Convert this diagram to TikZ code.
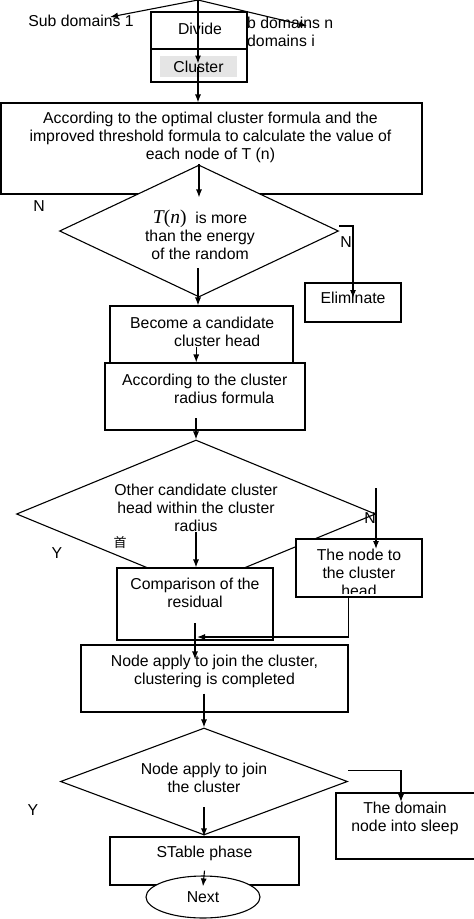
\documentclass[tikz,border=0pt]{standalone}
\usepackage{fontspec}
\setmainfont{Liberation Sans}
\newfontfamily\cjk{Noto Sans CJK SC}
\newfontfamily\lserif{Liberation Serif}
\newcommand{\tvar}{{\lserif\itshape T}{\lserif(}{\lserif\itshape n}{\lserif)}}
\usetikzlibrary{shapes.geometric, arrows.meta}
\tikzset{
    process/.style = {
        rectangle, draw, fill=white,
        line width=1.1pt, inner sep=0pt
    },
    decision/.style = {
        diamond, draw, fill=white,
        line width=1.1pt, inner sep=0pt
    },
    startstop/.style = {
        ellipse, draw, fill=white,
        line width=1.1pt, inner sep=0pt
    },
    txt/.style = {
        align=center, inner sep=0pt,
        font=\fontsize{15.8}{18}\selectfont
    },
    arrow/.style = {
        -{Latex[length=8pt,width=6pt]}, line width=1.1pt
    }
}

\begin{document}
\begin{tikzpicture}[x=1pt, y=-1pt]
\useasboundingbox (0,0) rectangle (474,919);

% dividing the domain
\coordinate (top) at (198,0);
\coordinate (tip1) at (110,17);
\coordinate (tipn) at (307,26);
\node (sub1) [txt] at (81,21) {Sub domains 1};
\node (subn) [txt, align=left, anchor=west] at (247,31.5) {b domains n\\domains i};
\node (divide) [process, minimum width=96, minimum height=37] at (199,30.5) {};
\node (divide-t) [txt] at (200,29) {Divide};
\node (cluster) [process, minimum width=96, minimum height=33] at (199,65.5) {};
\node (cluster-t) [txt, fill=gray!20, minimum width=77, minimum height=21] at (198.5,66.5) {Cluster};

\node (calc) [process, minimum width=421, minimum height=91] at (211.5,148.5) {};
\node (calc-t) [txt] at (210.5,137.5) {According to the optimal cluster formula and the\\improved threshold formula to calculate the value of\\each node of T (n)};

\node (tcheck) [decision, minimum width=279, minimum height=132] at (199,231) {};
\node (tcheck-t) [txt] at (200,235) {\fontsize{19.5}{18}\selectfont\tvar\fontsize{15.8}{18}\selectfont\ \ is more\\than the energy\\of the random};
\node (n1) [txt] at (39,206) {N};
\node (n2) [txt] at (346,242) {N};

\node (elim) [process, minimum width=96, minimum height=39] at (353,302.5) {};
\node (elim-t) [txt] at (353,298) {Eliminate};

\node (cand) [process, minimum width=183, minimum height=57] at (201.5,334.5) {};
\node (cand-t) [txt, align=left, anchor=west] at (130,331.5) {Become a candidate\\\hspace*{44pt}cluster head};

\node (radius) [process, minimum width=200, minimum height=67] at (205,396.5) {};
\node (radius-t) [txt, align=left, anchor=west] at (122,389) {According to the cluster\\\hspace*{52pt}radius formula};

\node (rcheck) [decision, minimum width=359, minimum height=148] at (196,514) {};
\node (rcheck-t) [txt] at (196,508) {Other candidate cluster\\head within the cluster\\radius};
\node (mark) [inner sep=0pt, font=\cjk\fontsize{13}{14}\selectfont] at (120,543) {首};
\node (y1) [txt] at (57,553) {Y};
\node (n3) [txt] at (370,518) {N};
\coordinate (nstart) at (376,488);

\node (tohead) [process, minimum width=126, minimum height=58] at (359,568) {};
\begin{scope}
\clip (296,540) rectangle (422,593);
\node (tohead-t) [txt] at (359,573) {The node to\\the cluster\\head};
\end{scope}

\node (compare) [process, minimum width=156, minimum height=72] at (195,604) {};
\node (compare-t) [txt] at (195,593) {Comparison of the\\residual};
\coordinate (merge) at (197,637);

\node (join) [process, minimum width=267, minimum height=67] at (214.5,678.5) {};
\node (join-t) [txt] at (214.5,671) {Node apply to join the cluster,\\clustering is completed};

\node (jcheck) [decision, minimum width=287, minimum height=107] at (204,781.5) {};
\node (jcheck-t) [txt] at (204,778) {Node apply to join\\the cluster};
\node (y2) [txt] at (33,810) {Y};

\node (sleep) [process, minimum width=140, minimum height=66] at (406,826) {};
\node (sleep-t) [txt] at (405,818.5) {The domain\\node into sleep};

\node (stable) [process, minimum width=189, minimum height=48] at (204.5,861) {};
\node (stable-t) [txt] at (204.5,853) {STable phase};

\node (next) [startstop, minimum width=114, minimum height=42, font=\fontsize{15.8}{18}\selectfont] at (203,897) {Next};

% connectors
\draw [arrow] (top) -- (tip1);
\draw [arrow] (top) -- (tipn);
\draw [arrow] (top) -- ([yshift=3pt]cluster-t.center -| top);
\draw [arrow] (cluster-t.center -| top) -- (top |- calc.north);
\draw [arrow] (tcheck.north) -- ++(0,33);
\draw [arrow] ([yshift=-8pt]tcheck-t.south -| top) -- (top |- cand.north);
\draw [arrow] ([yshift=5pt]tcheck.east) -| (elim-t.center);
\draw [arrow] ([xshift=-6pt]cand-t.south) -- ([xshift=-6pt]cand-t.south |- radius.north);
\draw [arrow] ([yshift=-14pt]radius-t.south -| rcheck.north) -- (rcheck.north);
\draw [arrow] (nstart) -- (nstart |- tohead-t.north);
\draw [arrow] (rcheck-t.south) -- (rcheck-t.south |- compare.north);
\draw [arrow] ([yshift=-15pt]compare-t.south) -- ([yshift=-15pt]compare-t.south |- join.north);
\draw [arrow] (join.east |- tohead.south) |- (merge);
\draw [arrow] ([yshift=-6pt]join-t.south -| jcheck.north) -- (jcheck.north);
\draw [arrow] ([yshift=11pt]jcheck.east) -| ([xshift=-4pt]sleep-t.north);
\draw [arrow] ([yshift=-14pt]jcheck-t.south) -- (jcheck-t.south |- stable.north);
\draw [arrow] ([yshift=-10pt]stable-t.south) -- ([yshift=-11pt]next.north);

\end{tikzpicture}
\end{document}
